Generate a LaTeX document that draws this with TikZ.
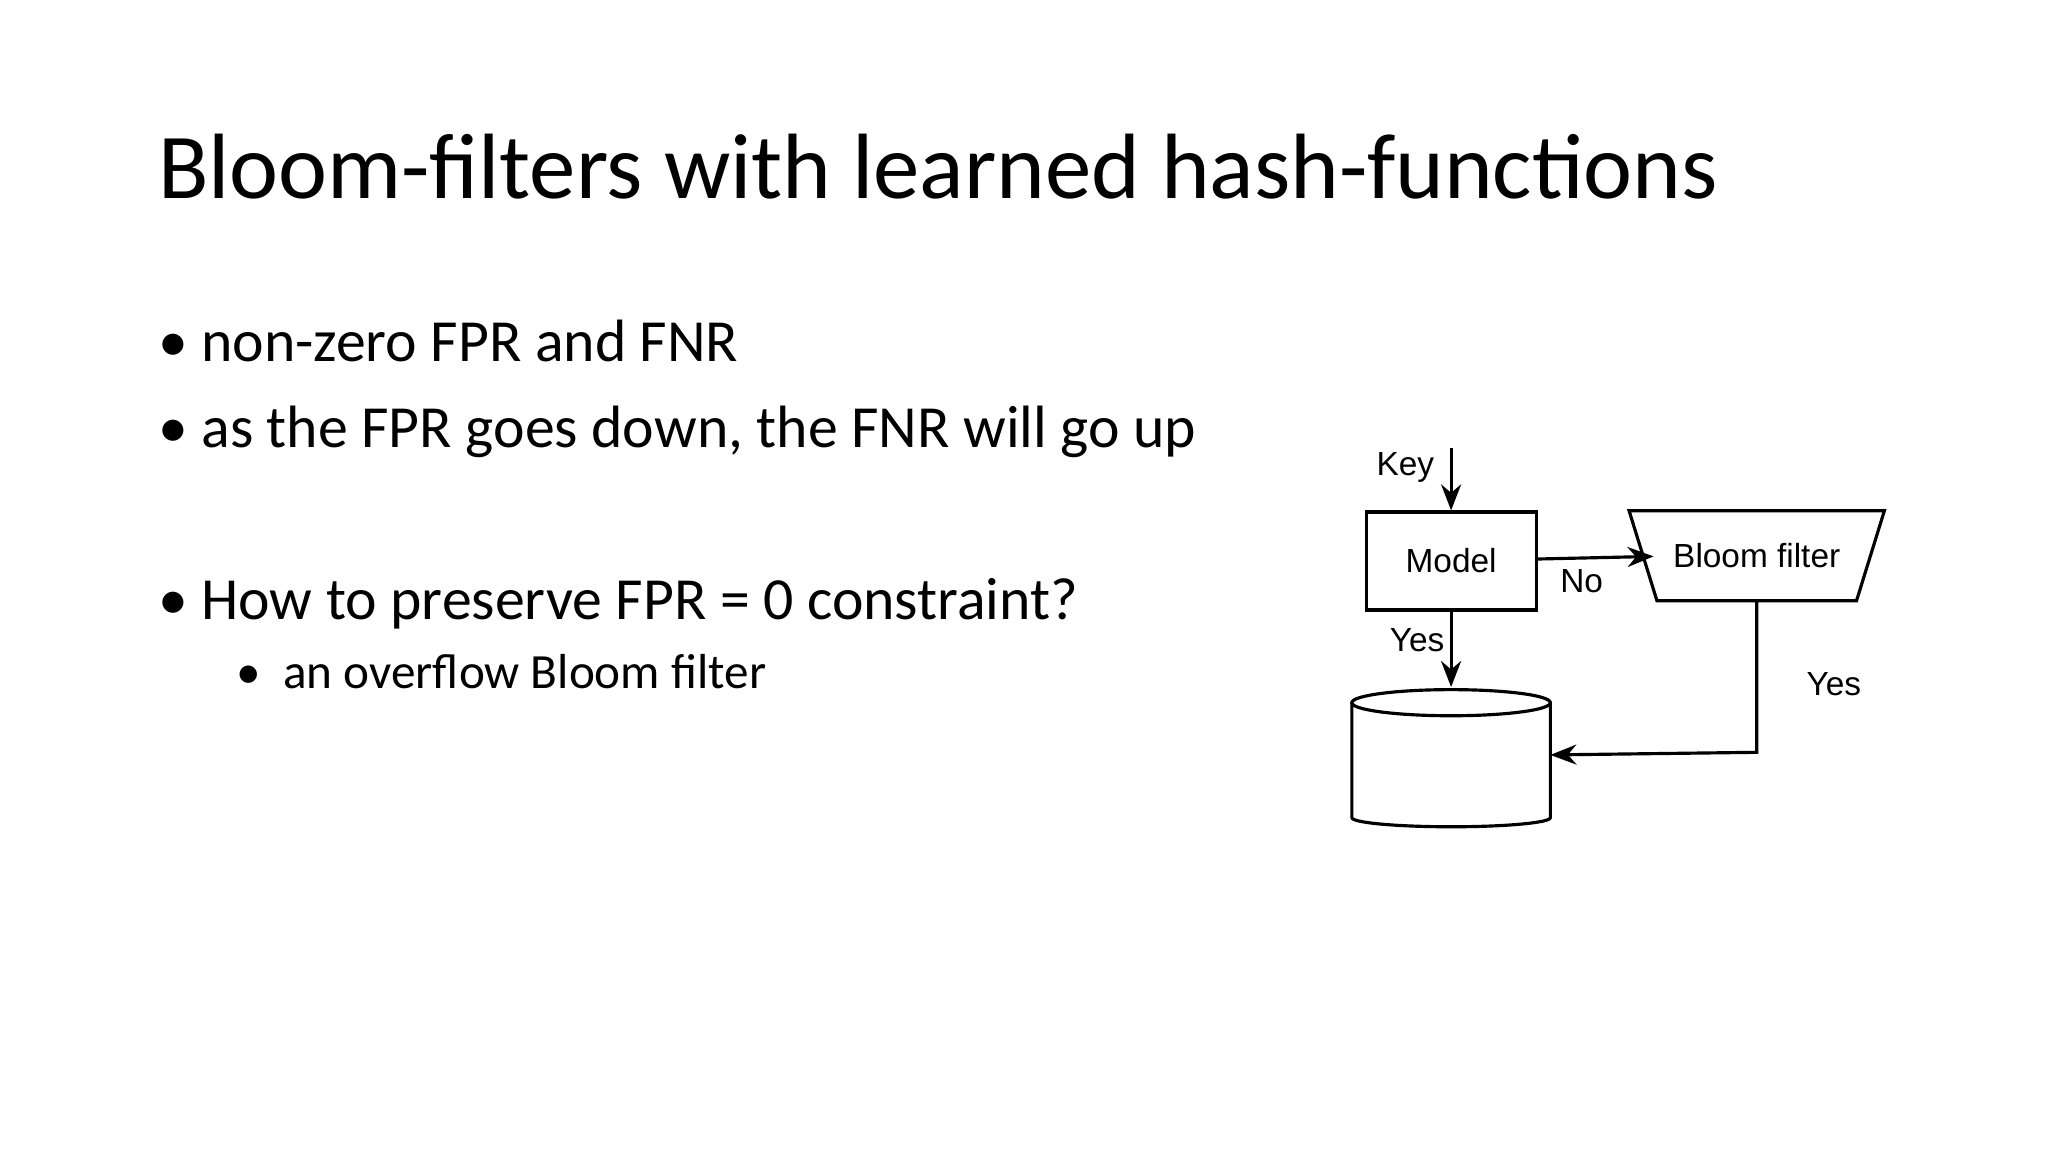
\documentclass[tikz,border=0pt]{standalone}
\usepackage{fontspec}
\setmainfont{Carlito}
\newfontfamily\diagfont{Liberation Sans}
\usetikzlibrary{shapes.geometric,arrows.meta}
\begin{document}
\begin{tikzpicture}
[
x=0.01306cm, y=-0.01306cm,
thick,
flow/.style={draw, line width=0.9pt, -{Stealth[length=2.6mm,width=2mm]}},
box/.style={draw, line width=0.9pt, fill=white, font=\diagfont\fontsize{9.5}{11}\selectfont},
lbl/.style={font=\diagfont\fontsize{9.5}{11}\selectfont, inner sep=0pt},
slide/.style={anchor=base west, inner sep=0pt}
]
\useasboundingbox (0,0) rectangle (1568,882);
% slide text
\node[slide, font=\fontsize{26.4}{32}\selectfont] (title) at (120,152) {Bloom-filters with learned hash-functions};
\node[slide, font=\fontsize{17}{20}\selectfont] (b1) at (120,277) {•\ non-zero FPR and FNR};
\node[slide, font=\fontsize{17}{20}\selectfont] (b2) at (120,343) {•\ as the FPR goes down, the FNR will go up};
\node[slide, font=\fontsize{17}{20}\selectfont] (b3) at (120,474) {•\ How to preserve FPR = 0 constraint?};
\node[slide, font=\fontsize{14}{17}\selectfont] (b4) at (180,527) {•\ \ an overflow Bloom filter};
% diagram
\node[box, minimum width=1.70cm, minimum height=0.98cm] (model) at (1111,429.5) {Model};
\node[box, trapezium, shape border rotate=180, trapezium angle=61, trapezium stretches=true, minimum width=2.56cm, minimum height=0.90cm] (bloom) at (1345,425.5) {Bloom filter};
\coordinate (keytop) at (1111,343);
\coordinate (turn) at (1345,576);
% cylinder
\coordinate (dbtop) at (1111,538);
\coordinate (dbin) at (1187,578);
\draw[line width=0.9pt, fill=white] (1035,538) -- (1035,626) arc[start angle=180, end angle=360, x radius=76, y radius=-7] -- (1187,538);
\draw[line width=0.9pt] (dbtop) ellipse [x radius=76, y radius=10];
\path[flow] (keytop) -- (model.north);
\path[flow] (model.south) -- (1111,526);
\path[flow] (model.east |- 0,428) -- (1266,426);
\path[flow] (bloom.south |- 0,460) -- (turn) -- (dbin);
\node[lbl] (key) at (1076,358) {Key};
\node[lbl] (no) at (1211,445) {No};
\node[lbl] (yes1) at (1085,490) {Yes};
\node[lbl] (yes2) at (1404,524) {Yes};
\end{tikzpicture}
\end{document}
